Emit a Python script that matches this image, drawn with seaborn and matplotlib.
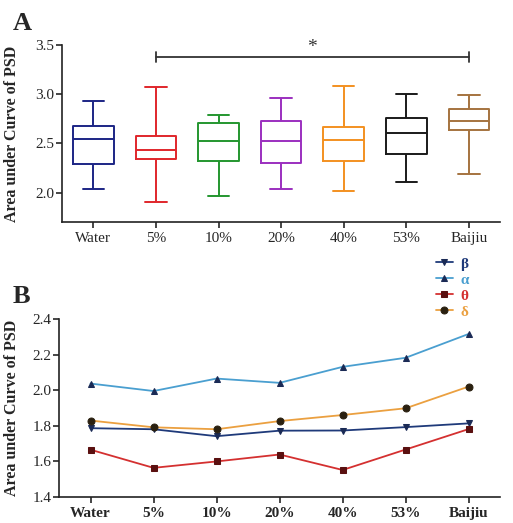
import numpy as np
import pandas as pd
import matplotlib
matplotlib.use("Agg")
import matplotlib.pyplot as plt
import seaborn as sns

# groups shared by both panels
groups = ["Water", "5%", "10%", "20%", "40%", "53%", "Baijiu"]

# panel A: five-number summaries (min, Q1, median, Q3, max)
box_min = [2.04, 1.90, 1.96, 2.04, 2.02, 2.11, 2.19]
box_q1 = [2.29, 2.34, 2.32, 2.30, 2.32, 2.39, 2.64]
box_med = [2.55, 2.43, 2.52, 2.52, 2.54, 2.61, 2.73]
box_q3 = [2.68, 2.58, 2.71, 2.73, 2.67, 2.76, 2.85]
box_max = [2.93, 3.07, 2.79, 2.96, 3.08, 3.00, 2.99]
box_colors = ["#1c2585", "#e0262b", "#24962f", "#9b2fbf", "#f39020", "#1a1a1a", "#a5733f"]

# panel B: mean area under PSD curve per band
bands = ["β", "α", "θ", "δ"]
beta_vals = [1.787, 1.781, 1.742, 1.773, 1.774, 1.793, 1.814]
alpha_vals = [2.038, 1.996, 2.066, 2.042, 2.132, 2.183, 2.317]
theta_vals = [1.666, 1.564, 1.600, 1.639, 1.552, 1.667, 1.782]
delta_vals = [1.830, 1.792, 1.781, 1.827, 1.861, 1.899, 2.021]
band_colors = ["#1f3a7a", "#4a9fd0", "#d43030", "#eba040"]
band_markers = ["v", "^", "s", "o"]
band_edges = ["#1a2a55", "#1a2a55", "#5a1010", "#2a2010"]

sns.set_style("ticks")
plt.rcParams["font.family"] = ["Liberation Serif", "DejaVu Serif"]

# build a long table so that the 25/50/75 percentiles land on the summary values
rows = []
for g, a, b, c, d, e in zip(groups, box_min, box_q1, box_med, box_q3, box_max):
    for v in (a, b, c, d, e):
        rows.append({"group": g, "value": v})
df_box = pd.DataFrame(rows)

fig = plt.figure(figsize=(5.13, 5.23), dpi=100)
ax1 = fig.add_axes([0.121, 0.5755, 0.854, 0.338])
ax2 = fig.add_axes([0.115, 0.0497, 0.860, 0.340])

# ---- panel A
sns.boxplot(data=df_box, x="group", y="value", hue="group", order=groups,
            palette=box_colors, fill=False, whis=(0, 100), width=0.65,
            linewidth=1.4, legend=False, ax=ax1, capwidths=0.34)
ax1.set_xlim(-0.5, 6.5)
ax1.set_ylim(1.7, 3.5)
ax1.set_yticks([2.0, 2.5, 3.0, 3.5])
ax1.set_xlabel("")
ax1.set_ylabel("Area under Curve of PSD", fontsize=11.5, fontweight="bold")
ax1.yaxis.set_label_coords(-0.095, 0.5)
ax1.tick_params(labelsize=11, length=4, width=1.2)
ax1.tick_params(axis="y", pad=1.5)
sns.despine(ax=ax1)
for s in ["left", "bottom"]:
    ax1.spines[s].set_linewidth(1.2)
    ax1.spines[s].set_color("#222222")

# significance bracket 5% vs Baijiu
ax1.plot([1, 6], [3.38, 3.38], color="#333333", lw=1.3, clip_on=False)
ax1.plot([1, 1], [3.33, 3.43], color="#333333", lw=1.3, clip_on=False)
ax1.plot([6, 6], [3.33, 3.43], color="#333333", lw=1.3, clip_on=False)
ax1.text(3.5, 3.48, "*", ha="center", va="center", fontsize=14, color="#333333")

# ---- panel B
for band, vals, col, mk, ec in zip(bands, [beta_vals, alpha_vals, theta_vals, delta_vals],
                                   band_colors, band_markers, band_edges):
    sns.lineplot(x=groups, y=vals, color=col, marker=mk, markersize=5,
                 markerfacecolor=ec, markeredgecolor=ec, linewidth=1.3,
                 label=band, ax=ax2)
ax2.set_xlim(-0.5, 6.5)
ax2.set_ylim(1.4, 2.4)
ax2.set_yticks([1.4, 1.6, 1.8, 2.0, 2.2, 2.4])
ax2.set_ylabel("Area under Curve of PSD", fontsize=11.5, fontweight="bold")
ax2.yaxis.set_label_coords(-0.088, 0.5)
ax2.tick_params(labelsize=11, length=4, width=1.2)
ax2.tick_params(axis="y", pad=1.5)
for lab in ax2.get_xticklabels():
    lab.set_fontweight("bold")
sns.despine(ax=ax2)
for s in ["left", "bottom"]:
    ax2.spines[s].set_linewidth(1.2)
    ax2.spines[s].set_color("#222222")

leg = ax2.legend(loc="upper left", bbox_to_anchor=(0.835, 0.523), bbox_transform=fig.transFigure,
                 frameon=False, fontsize=11, labelcolor="linecolor", handlelength=1.1,
                 handletextpad=0.5, labelspacing=0.15, borderpad=0)
for t in leg.get_texts():
    t.set_fontweight("bold")

fig.text(0.025, 0.943, "A", fontsize=19, fontweight="bold")
fig.text(0.025, 0.42, "B", fontsize=19, fontweight="bold")

fig.savefig("out.png", dpi=100)
